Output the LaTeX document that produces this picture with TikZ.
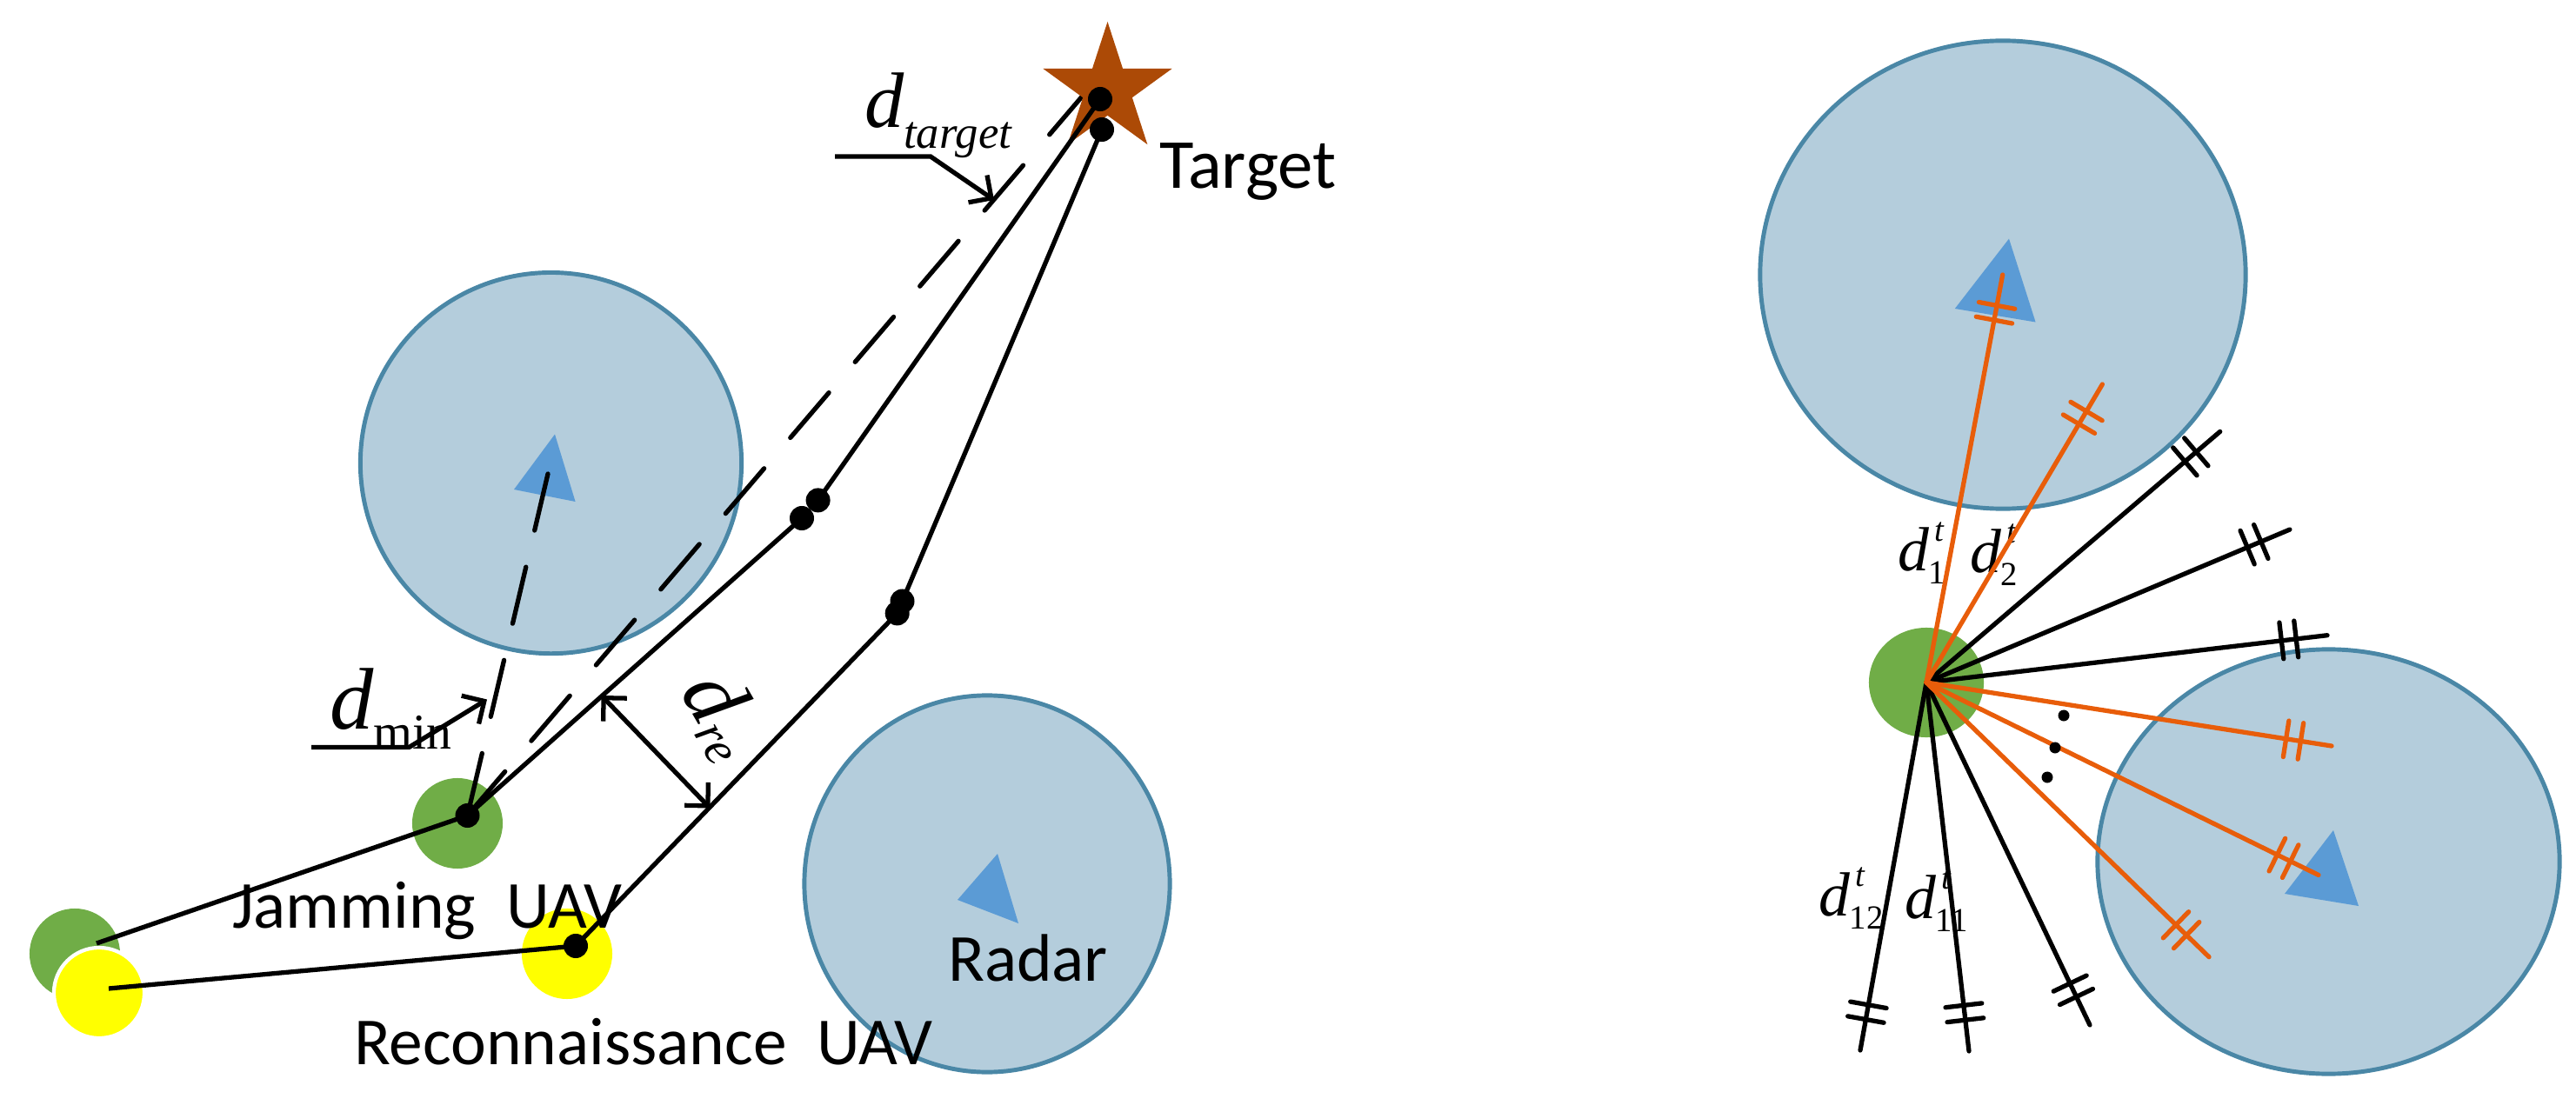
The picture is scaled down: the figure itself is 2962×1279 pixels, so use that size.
\documentclass[tikz,border=0pt]{standalone}
\usepackage{fontspec}
\setmainfont{Carlito}
\newfontfamily\timesfam{Liberation Serif}
\usetikzlibrary{arrows.meta,calc,shapes.geometric}

\definecolor{threatfill}{HTML}{B4CDDC}
\definecolor{threatline}{HTML}{4A87A6}
\definecolor{radarblue}{HTML}{5B9BD5}
\definecolor{uavgreen}{HTML}{70AD47}
\definecolor{uavyellow}{HTML}{FFFF00}
\definecolor{starbrown}{HTML}{AC4A06}
\definecolor{rayorange}{HTML}{E85D0A}

% big d with a lowered subscript: size, sub size, drop, text
\newcommand{\dsub}[4]{{\timesfam\itshape\fontsize{#1}{#1}\selectfont d\raisebox{-#3}{\fontsize{#2}{#2}\selectfont #4}}}
% small d with t above and a number below
\newcommand{\dnum}[1]{{\timesfam\itshape\fontsize{20.4pt}{20.4pt}\selectfont d\rlap{\kern2pt\raisebox{9.4pt}{\fontsize{11pt}{11pt}\selectfont t}}\raisebox{-4.5pt}{\fontsize{11pt}{11pt}\selectfont\upshape #1}}}
% ray from the hub with two ticks near its end
\newcommand{\tickray}[2]{
	\draw[#1] (hub.center) -- (#2);
	\draw[#1] ($(#2)!.36cm!(hub.center)!.21cm!90:(hub.center)$) -- ($(#2)!.36cm!(hub.center)!.21cm!-90:(hub.center)$);
	\draw[#1] ($(#2)!.53cm!(hub.center)!.21cm!90:(hub.center)$) -- ($(#2)!.53cm!(hub.center)!.21cm!-90:(hub.center)$);
}

\begin{document}
\begin{tikzpicture}[x=.01cm,y=-.01cm,
	> = {Straight Barb[length=5.4pt,width=10.8pt]}, % arrow head style
	every node/.style={inner sep=0pt,outer sep=0pt},
	threat/.style={ellipse,fill=threatfill,draw=threatline,line width=1.4pt},
	radarmark/.style={fill=radarblue},
	uav/.style={circle,minimum size=1.04cm},
	waypoint/.style={circle,fill=black,minimum size=.28cm},
	path/.style={line width=1.5pt},
	dashline/.style={line width=1.5pt,line cap=round},
	black ray/.style={line width=1.5pt,line cap=round},
	orange ray/.style={line width=1.5pt,line cap=round,draw=rayorange},
	tag/.style={anchor=base west,font=\fontsize{22pt}{22pt}\selectfont},
	dlabel/.style={anchor=base west}]
	\useasboundingbox (0,0) rectangle (2962,1279);

	% threat zones, left
	\node[threat,minimum width=4.38cm,minimum height=4.38cm] (zoneA) at (633.5,532.6) {};
	\node[threat,minimum width=4.2cm,minimum height=4.33cm] (zoneB) at (1135,1016.5) {};
	\fill[radarmark] (638,499.5) -- (661.6,577) -- (591,563) -- cycle;
	\fill[radarmark] (1147,982) -- (1171,1062) -- (1101,1035) -- cycle;

	% threat zones, right
	\node[threat,minimum width=5.58cm,minimum height=5.38cm] (zoneC) at (2303,316) {};
	\node[threat,minimum width=5.31cm,minimum height=4.88cm] (zoneD) at (2677.5,991) {};
	\fill[radarmark] (2310,274.6) -- (2340.6,370.5) -- (2247.8,355) -- cycle;
	\fill[radarmark] (2683,955) -- (2712,1042) -- (2627,1028) -- cycle;

	% UAVs, left
	\node[uav,fill=uavgreen] (jamEnd) at (526,947) {};
	\node[uav,fill=uavgreen] (jamStart) at (86,1097) {};
	\node[uav,fill=uavyellow,draw=white,line width=1.2pt] (recStart) at (114,1142) {};
	\node[uav,fill=uavyellow] (recEnd) at (652,1097) {};

	\coordinate (jamFree) at (111,1085);
	\coordinate (recFree) at (125,1137);
	\coordinate (dashA) at (630,545);
	\coordinate (dashT) at (1251,103);

	\node[waypoint] (jamDot) at (537.5,938) {};
	\node[waypoint] (recDot) at (662,1088) {};
	\node[waypoint] (jamMidA) at (922,596) {};
	\node[waypoint] (jamMidB) at (940.6,575.4) {};
	\node[waypoint] (recMidA) at (1031.7,705.4) {};
	\node[waypoint] (recMidB) at (1037.5,691.5) {};

	\draw[dashline,dash pattern=on 19.4pt off 13.2pt] (dashT) -- (jamDot.center);
	\draw[dashline,dash pattern=on 19pt off 12.3pt] (dashA) -- (jamDot.center);

	\node[star,star points=5,star point ratio=2.618,shape border rotate=0,fill=starbrown,minimum size=1.56cm] (target) at (1273.5,103) {};
	\node[waypoint] (jamTop) at (1265,114) {};
	\node[waypoint] (recTop) at (1267,149) {};

	\draw[path] (jamFree) -- (jamDot.center);
	\draw[path] (recFree) -- (recDot.center);
	\draw[path] (jamDot.center) -- (jamMidA.center);
	\draw[path] (jamMidB.center) -- (jamTop.center);
	\draw[path] (recDot.center) -- (recMidA.center);
	\draw[path] (recMidB.center) -- (recTop.center);

	% distance marks
	\coordinate (minA) at (358,859.4);
	\coordinate (minB) at (470.5,859.4);
	\coordinate (minC) at (560,804.5);
	\coordinate (tarA) at (960,180);
	\coordinate (tarB) at (1070,180);
	\coordinate (tarC) at (1143,230);
	\coordinate (reA) at (691.5,800);
	\coordinate (reB) at (816.5,929.5);
	\draw[->,path] (minA) -- (minB) -- (minC);
	\draw[->,path] (tarA) -- (tarB) -- (tarC);
	\draw[<->,path] (reA) -- (reB);

	\node[tag,font=\fontsize{23pt}{23pt}\selectfont] (lblTarget) at (1333,217) {Target};
	\node[tag] (lblJam) at (267,1067) {Jamming~~UAV};
	\node[tag] (lblRec) at (407,1224) {Reconnaissance~~UAV};
	\node[tag] (lblRadar) at (1090,1128) {Radar};

	\node[dlabel] (lblDtarget) at (994,147) {\dsub{25.7pt}{15pt}{6.8pt}{target}};
	\node[dlabel] (lblDmin) at (379,838) {\dsub{28.6pt}{16.4pt}{6.7pt}{\upshape min}};
	\node[rotate=-60] (lblDre) at (830.5,822) {\dsub{28.6pt}{16.4pt}{3pt}{re}};

	% fan of rays, right
	\node[ellipse,fill=uavgreen,minimum width=1.32cm,minimum height=1.26cm] (hub) at (2215,785) {};
	\coordinate (ray1) at (2302.7,316);
	\coordinate (ray2) at (2417.4,442);
	\coordinate (ray3) at (2552.7,496.4);
	\coordinate (ray4) at (2633,609);
	\coordinate (ray5) at (2676,730.7);
	\coordinate (ray6) at (2681,858);
	\coordinate (ray7) at (2666,1006.5);
	\coordinate (ray8) at (2540,1100.7);
	\coordinate (ray9) at (2403,1179);
	\coordinate (ray10) at (2264,1209);
	\coordinate (ray11) at (2139,1208);

	\node[dlabel] (lblD1) at (2182,656) {\dnum{1}};
	\node[dlabel] (lblD2) at (2265,658) {\dnum{2}};
	\node[dlabel] (lblD12) at (2091,1053) {\dnum{12}};
	\node[dlabel] (lblD11) at (2190,1056) {\dnum{11}};

	\tickray{black ray}{ray3}
	\tickray{black ray}{ray4}
	\tickray{black ray}{ray5}
	\tickray{black ray}{ray9}
	\tickray{black ray}{ray10}
	\tickray{black ray}{ray11}
	\tickray{orange ray}{ray1}
	\tickray{orange ray}{ray2}
	\tickray{orange ray}{ray6}
	\tickray{orange ray}{ray7}
	\tickray{orange ray}{ray8}

	\node[circle,fill=black,minimum size=.13cm] (gapA) at (2373,823) {};
	\node[circle,fill=black,minimum size=.13cm] (gapB) at (2363,860) {};
	\node[circle,fill=black,minimum size=.13cm] (gapC) at (2354,894) {};

\end{tikzpicture}
\end{document}
